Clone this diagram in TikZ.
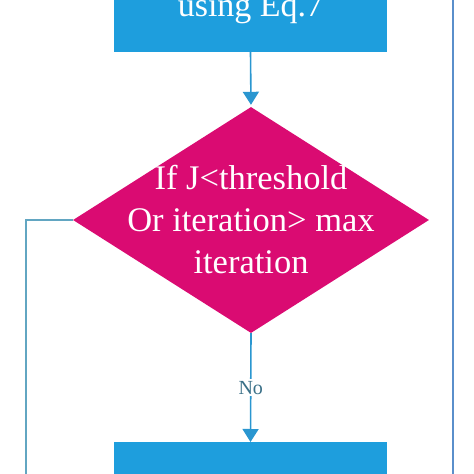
\documentclass[tikz,border=0pt]{standalone}
\usepackage{fontspec}
\setmainfont{Liberation Serif}
\usetikzlibrary{arrows.meta, positioning, shapes.geometric}
\definecolor{procBlue}{HTML}{1E9EDD}
\definecolor{decisionPink}{HTML}{DA0B72}
\definecolor{arrowBlue}{HTML}{2A96D0}
\definecolor{loopTeal}{HTML}{62A6C2}
\definecolor{loopBlue}{HTML}{5A8FCB}
\definecolor{labelColor}{HTML}{3A7088}

\begin{document}
\begin{tikzpicture}[
    x=1pt, y=1pt,
    procbox/.style={
        fill=procBlue, draw=none,
        minimum width=273pt, inner sep=0pt,
        text=white, font=\fontsize{34}{42}\selectfont
    },
    decisionbox/.style={
        diamond, fill=decisionPink, draw=none,
        minimum width=356pt, minimum height=226pt, inner sep=0pt
    },
    decisiontext/.style={
        text=white, align=center, font=\fontsize{34.5}{42}\selectfont
    },
    flowarrow/.style={
        -{Triangle[length=13pt,width=16pt]},
        arrowBlue, line width=1.6pt, shorten >=2pt
    },
    loopline/.style={line width=1.6pt},
]
\useasboundingbox (0,0) rectangle (474,474);
\clip (0,0) rectangle (474,474);

% ============================================================
%  NODES
% ============================================================
\node[procbox, text height=65pt, text depth=35pt, anchor=south]
    (update) at (250.5,422) {using Eq.7};

\node[decisionbox, label={[decisiontext]center:If J<threshold\\Or iteration> max\\iteration}]
    (check) at (251,254) {};

\node[procbox, minimum height=60pt, anchor=north]
    (next) at (250.5,32) {};

% ============================================================
%  CONNECTORS
% ============================================================
\draw[flowarrow] (update.south) -- (check.north);
\draw[flowarrow, shorten >=0pt] (check.south) -- node[fill=white, inner sep=2pt,
    font=\fontsize{20}{22}\selectfont, text=labelColor] (nolabel) {No} (next.north);

% loop-back lines leaving the picture
\coordinate (leftdown) at (26,-10);
\coordinate (righttop) at (453,484);
\coordinate (rightdown) at (453,-10);
\draw[loopline, loopTeal] (check.west) -| (leftdown);
\draw[loopline, loopBlue] (righttop) -- (rightdown);

\end{tikzpicture}
\end{document}
